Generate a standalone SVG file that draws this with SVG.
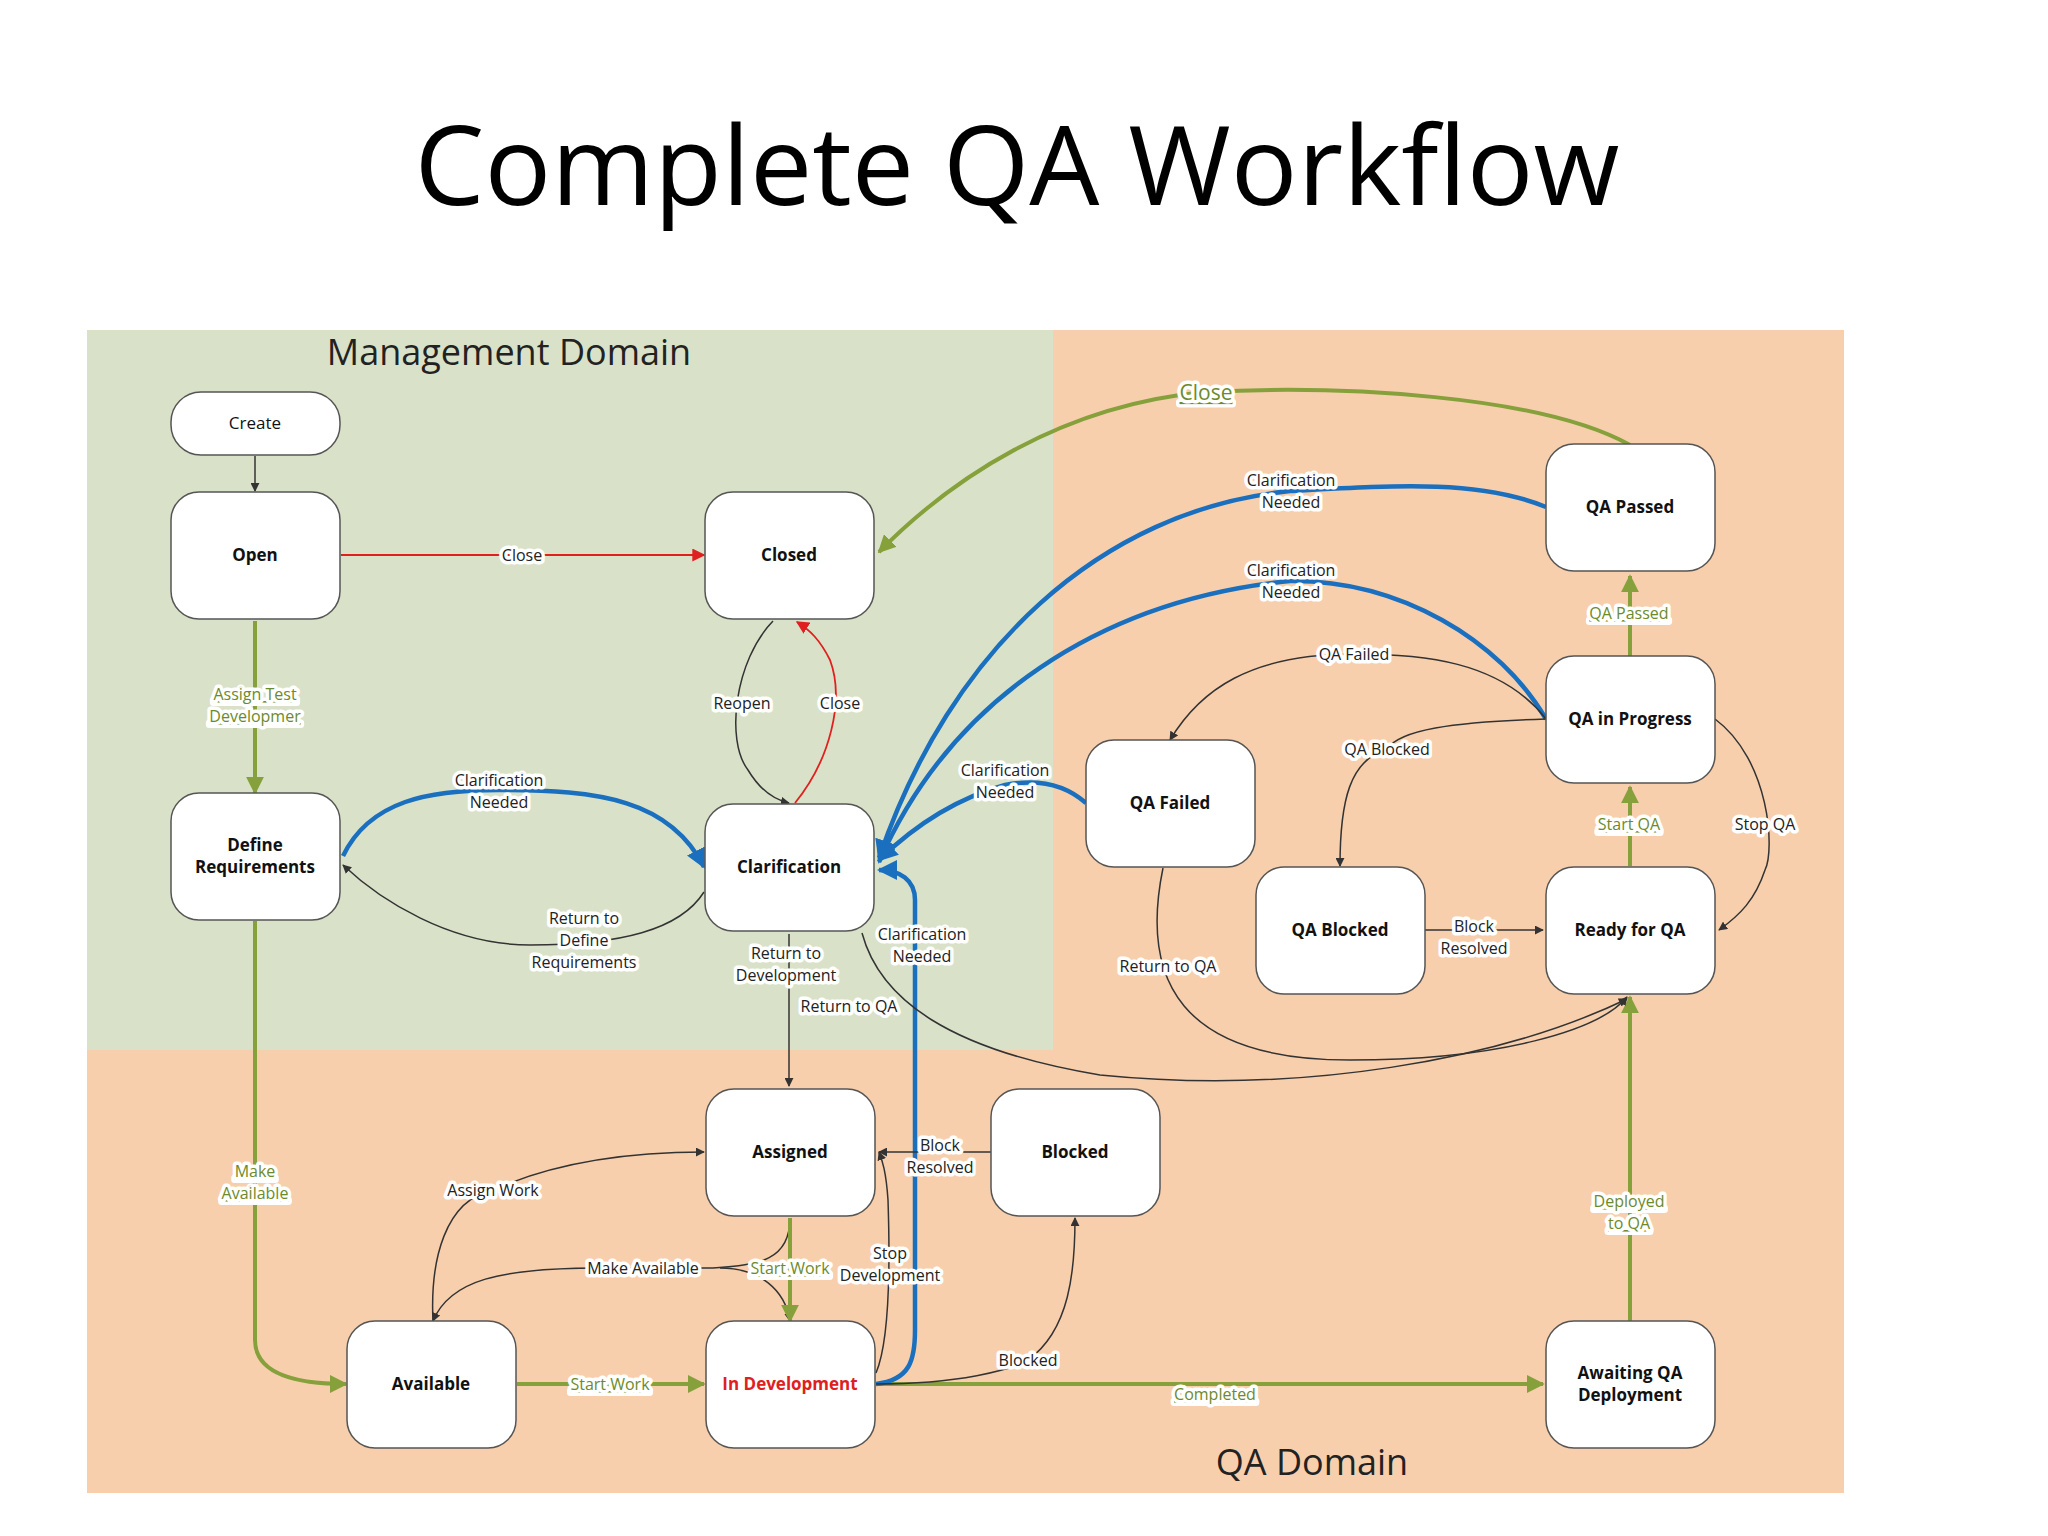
<svg xmlns="http://www.w3.org/2000/svg" width="2048" height="1536" viewBox="0 0 2048 1536">
<style>
.n rect{fill:#fff;stroke:#555;stroke-width:1.5}
.n text{font-family:"Open Sans","Liberation Sans",sans-serif;font-size:17px;font-weight:bold;text-anchor:middle;fill:#111}
.n text.nb{font-weight:normal}
.e path{fill:none}
.k{stroke:#333;stroke-width:1.5;marker-end:url(#ak)}
.g{stroke:#86a03c;stroke-width:4;marker-end:url(#ag)}
.b{stroke:#1a6fbf;stroke-width:4.5;marker-end:url(#ab)}
.r{stroke:#e02020;stroke-width:1.8;marker-end:url(#ar)}
.l text{font-family:"Open Sans","Liberation Sans",sans-serif;font-size:16px;text-anchor:middle;fill:#222;paint-order:stroke;stroke:#fff;stroke-width:7px;stroke-linejoin:round}
.l text.gl{fill:#6d8a2a;text-decoration:underline}
.l text.big{font-size:21px}
</style>
<defs>
<marker id="ak" viewBox="0 0 10 10" refX="9" refY="5" markerWidth="9" markerHeight="9" markerUnits="userSpaceOnUse" orient="auto"><path d="M0,0L10,5L0,10z" fill="#333"/></marker>
<marker id="ag" viewBox="0 0 10 10" refX="9" refY="5" markerWidth="18" markerHeight="18" markerUnits="userSpaceOnUse" orient="auto"><path d="M0,0L10,5L0,10z" fill="#86a03c"/></marker>
<marker id="ab" viewBox="0 0 10 10" refX="9" refY="5" markerWidth="20" markerHeight="20" markerUnits="userSpaceOnUse" orient="auto"><path d="M0,0L10,5L0,10z" fill="#1a6fbf"/></marker>
<marker id="ar" viewBox="0 0 10 10" refX="9" refY="5" markerWidth="13" markerHeight="13" markerUnits="userSpaceOnUse" orient="auto"><path d="M0,0L10,5L0,10z" fill="#e02020"/></marker>
</defs>
<rect width="2048" height="1536" fill="#fff"/>
<rect x="87" y="330" width="1757" height="1163" fill="#f7cfad"/>
<rect x="87" y="330" width="966" height="720" fill="#d9e2c8"/>
<text x="1017" y="205" font-family="Open Sans,Noto Sans,sans-serif" font-size="110" text-anchor="middle" fill="#000" textLength="1205" lengthAdjust="spacingAndGlyphs">Complete QA Workflow</text>
<text x="509" y="365" font-family="Open Sans,Noto Sans,sans-serif" font-size="36" text-anchor="middle" fill="#222">Management Domain</text>
<text x="1312" y="1475" font-family="Open Sans,Noto Sans,sans-serif" font-size="36" text-anchor="middle" fill="#222">QA Domain</text>
<g class="e" id="connectors">
<path class="k" d="M255,456L255,491"/>
<path class="r" d="M341,555L704,555"/>
<path class="g" d="M255,621L255,793"/>
<path class="g" d="M255,921L255,1340Q255,1384 346,1384"/>
<path class="g" d="M517,1384L704,1384"/>
<path class="g" d="M876,1384L1543,1384"/>
<path class="g" d="M1630,1321L1630,997"/>
<path class="g" d="M1630,866L1630,787"/>
<path class="g" d="M1630,656L1630,576"/>
<path class="g" d="M1630,445C1540,395 1340,385 1206,392C1060,405 950,480 879,552"/>
<path class="b" d="M343,856C370,800 430,790 499,790C600,790 670,800 704,867"/>
<path class="k" d="M704,892C680,930 620,945 530,945C450,945 380,900 343,865"/>
<path class="k" d="M773,621C735,660 725,740 748,770C760,790 775,800 789,803"/>
<path class="r" d="M795,803C830,760 845,700 830,660C820,640 810,630 797,622"/>
<path class="k" d="M789,934L789,1086"/>
<path class="b" d="M876,1384C910,1380 915,1360 915,1330L915,900C915,880 900,870 879,870"/>
<path class="b" d="M1086,803C1060,780 1030,780 1005,785C950,800 910,830 879,860"/>
<path class="b" d="M1546,507C1480,480 1400,485 1290,491C1100,510 950,650 879,858"/>
<path class="b" d="M1546,719C1500,640 1400,580 1290,581C1100,600 950,700 879,862"/>
<path class="k" d="M1546,719C1500,660 1420,654 1354,654C1250,654 1200,690 1170,740"/>
<path class="k" d="M1546,719C1450,722 1400,730 1387,749C1350,760 1340,800 1340,866"/>
<path class="k" d="M1424,930L1543,930"/>
<path class="k" d="M1715,719C1770,760 1775,850 1765,870C1755,900 1740,915 1719,930"/>
<path class="k" d="M1163,868C1140,980 1180,1060 1350,1060C1500,1060 1600,1030 1627,997"/>
<path class="k" d="M862,933C880,1000 950,1050 1100,1075C1300,1095 1500,1060 1627,999"/>
<path class="k" d="M991,1152L879,1152"/>
<path class="k" d="M433,1321C430,1260 445,1200 493,1190C560,1160 640,1152 704,1152"/>
<path class="k" d="M790,1218C790,1260 760,1265 713,1268L600,1268C500,1268 450,1280 433,1321"/>
<path class="k" d="M720,1268C760,1268 785,1290 790,1321"/>
<path class="g" d="M790,1218L790,1321"/>
<path class="k" d="M876,1373C890,1340 890,1260 888,1200C886,1170 882,1160 879,1152"/>
<path class="k" d="M876,1384C960,1384 1010,1370 1028,1360C1070,1330 1075,1270 1075,1218"/>
</g>
<g class="l" id="labels">
<text x="522" y="561">Close</text>
<text class="gl" x="255" y="700">Assign Test</text><text class="gl" x="255" y="722">Developmer</text>
<text class="gl" x="255" y="1177">Make</text><text class="gl" x="255" y="1199">Available</text>
<text class="gl" x="610" y="1390">Start Work</text>
<text class="gl" x="1215" y="1400">Completed</text>
<text class="gl" x="1629" y="1207">Deployed</text><text class="gl" x="1629" y="1229">to QA</text>
<text class="gl" x="1629" y="830">Start QA</text>
<text class="gl" x="1629" y="619">QA Passed</text>
<text class="gl big" x="1206" y="400">Close</text>
<text x="499" y="786">Clarification</text><text x="499" y="808">Needed</text>
<text x="584" y="924">Return to</text><text x="584" y="946">Define</text><text x="584" y="968">Requirements</text>
<text x="742" y="709">Reopen</text>
<text x="840" y="709">Close</text>
<text x="786" y="959">Return to</text><text x="786" y="981">Development</text>
<text x="922" y="940">Clarification</text><text x="922" y="962">Needed</text>
<text x="1005" y="776">Clarification</text><text x="1005" y="798">Needed</text>
<text x="1291" y="486">Clarification</text><text x="1291" y="508">Needed</text>
<text x="1291" y="576">Clarification</text><text x="1291" y="598">Needed</text>
<text x="1354" y="660">QA Failed</text>
<text x="1387" y="755">QA Blocked</text>
<text x="1474" y="932">Block</text><text x="1474" y="954">Resolved</text>
<text x="1765" y="830">Stop QA</text>
<text x="1168" y="972">Return to QA</text>
<text x="849" y="1012">Return to QA</text>
<text x="940" y="1151">Block</text><text x="940" y="1173">Resolved</text>
<text x="493" y="1196" font-size="18">Assign Work</text>
<text x="643" y="1274" font-size="18">Make Available</text>
<text class="gl" x="790" y="1274">Start Work</text>
<text x="890" y="1259">Stop</text><text x="890" y="1281">Development</text>
<text x="1028" y="1366">Blocked</text>
</g>
<g class="n" id="create"><rect x="171" y="392" width="169" height="63" rx="30"/><text class="nb" x="255" y="429">Create</text></g>
<g class="n" id="open"><rect x="171" y="492" width="169" height="127" rx="28"/><text x="255" y="561">Open</text></g>
<g class="n" id="closed"><rect x="705" y="492" width="169" height="127" rx="28"/><text x="789" y="561">Closed</text></g>
<g class="n" id="define"><rect x="171" y="793" width="169" height="127" rx="28"/><text x="255" y="851">Define</text><text x="255" y="873">Requirements</text></g>
<g class="n" id="clarification"><rect x="705" y="804" width="169" height="127" rx="28"/><text x="789" y="873">Clarification</text></g>
<g class="n" id="assigned"><rect x="706" y="1089" width="169" height="127" rx="28"/><text x="790" y="1158">Assigned</text></g>
<g class="n" id="blocked"><rect x="991" y="1089" width="169" height="127" rx="28"/><text x="1075" y="1158">Blocked</text></g>
<g class="n" id="available"><rect x="347" y="1321" width="169" height="127" rx="28"/><text x="431" y="1390">Available</text></g>
<g class="n" id="indev"><rect x="706" y="1321" width="169" height="127" rx="28"/><text x="790" y="1390" style="fill:#e02020">In Development</text></g>
<g class="n" id="qapassed"><rect x="1546" y="444" width="169" height="127" rx="28"/><text x="1630" y="513">QA Passed</text></g>
<g class="n" id="qainprogress"><rect x="1546" y="656" width="169" height="127" rx="28"/><text x="1630" y="725">QA in Progress</text></g>
<g class="n" id="qafailed"><rect x="1086" y="740" width="169" height="127" rx="28"/><text x="1170" y="809">QA Failed</text></g>
<g class="n" id="qablocked"><rect x="1256" y="867" width="169" height="127" rx="28"/><text x="1340" y="936">QA Blocked</text></g>
<g class="n" id="ready"><rect x="1546" y="867" width="169" height="127" rx="28"/><text x="1630" y="936">Ready for QA</text></g>
<g class="n" id="awaiting"><rect x="1546" y="1321" width="169" height="127" rx="28"/><text x="1630" y="1379">Awaiting QA</text><text x="1630" y="1401">Deployment</text></g>
</svg>
